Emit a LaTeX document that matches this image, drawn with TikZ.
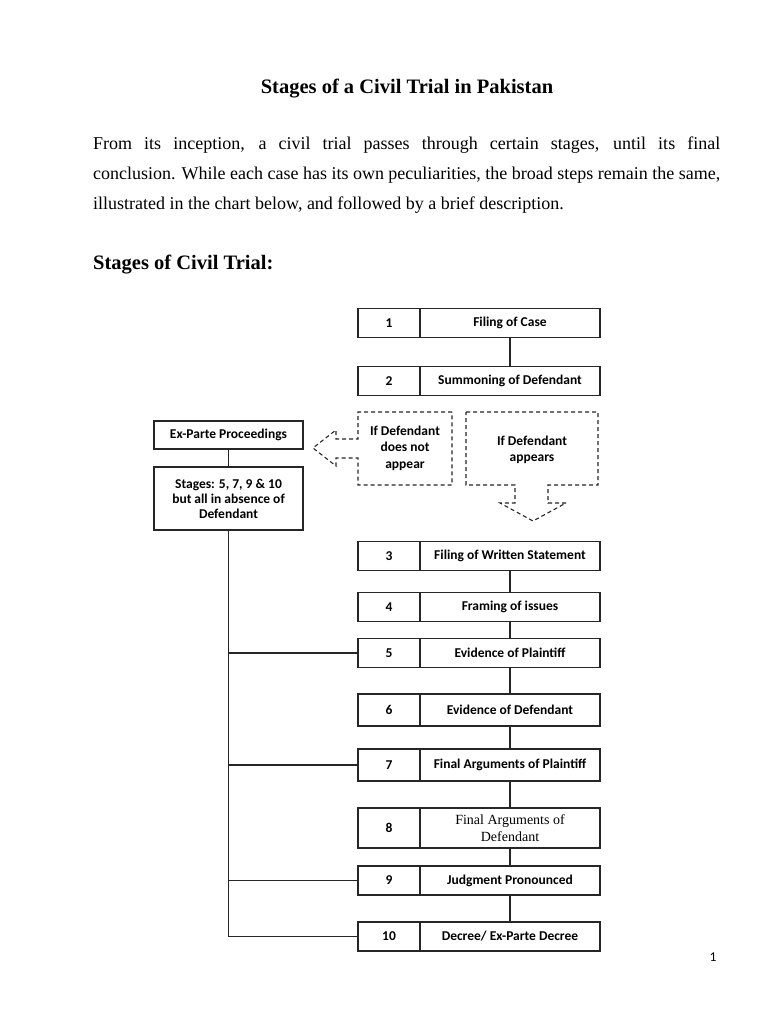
\documentclass[tikz,border=0pt]{standalone}
\usepackage{fontspec}
\setmainfont{Liberation Serif}
\newfontfamily\calib{Carlito}
\tikzset{
  numcell/.style={draw=black!85,line width=1.1pt,minimum width=62pt,minimum height=29pt,inner sep=0pt,font=\calib\bfseries\fontsize{13.5}{16}\selectfont},
  stagecell/.style={numcell,minimum width=180pt},
  sidebox/.style={numcell,minimum width=149pt,align=center,font=\calib\bfseries\fontsize{13.5}{15}\selectfont},
  callout/.style={draw=black!85,line width=1.1pt,dash pattern=on 4pt off 3pt},
  calltext/.style={align=center,inner sep=0pt,font=\calib\bfseries\fontsize{13.5}{16.5}\selectfont}
}
\begin{document}
\begin{tikzpicture}[x=1pt,y=-1pt]
      \useasboundingbox[fill=white] (0,0) rectangle (768,1024);
      % page text
      \node[anchor=base,font=\bfseries\fontsize{20.5}{24}\selectfont] (title) at (407,94) {Stages of a Civil Trial in Pakistan};
      \node[anchor=north west,inner sep=0pt,text width=627pt,align=justify,font=\fontsize{18}{30}\selectfont] (intro) at (93,137)
        {From its inception, a civil trial passes through certain stages, until its final\linebreak
         conclusion. While each case has its own peculiarities, the broad steps remain the same,
         illustrated in the chart below, and followed by a brief description.};
      \node[anchor=base west,inner sep=0pt,font=\bfseries\fontsize{20.5}{24}\selectfont] (heading) at (93,269) {Stages of Civil Trial:};
      \node[anchor=base,inner sep=0pt,font=\calib\fontsize{13.5}{16}\selectfont] (page) at (713,961) {1};
      % stages
      \draw
        (389,323) node[numcell] (n1){1}
        (510,323) node[stagecell] (s1){Filing of Case}
        (389,381) node[numcell] (n2){2}
        (510,381) node[stagecell] (s2){Summoning of Defendant}
        (389,556) node[numcell] (n3){3}
        (510,556) node[stagecell] (s3){Filing of Written Statement}
        (389,607) node[numcell] (n4){4}
        (510,607) node[stagecell] (s4){Framing of issues}
        (389,653) node[numcell] (n5){5}
        (510,653) node[stagecell] (s5){Evidence of Plaintiff}
        (389,710) node[numcell,minimum height=32pt] (n6){6}
        (510,710) node[stagecell,minimum height=32pt] (s6){Evidence of Defendant}
        (389,765) node[numcell,minimum height=32pt] (n7){7}
        (510,765) node[stagecell,minimum height=32pt] (s7){Final Arguments of Plaintiff}
        (389,828) node[numcell,minimum height=40pt] (n8){8}
        (510,828) node[stagecell,minimum height=40pt,align=center,font=\fontsize{14}{16.5}\selectfont] (s8){Final Arguments of\\Defendant}
        (389,880.5) node[numcell] (n9){9}
        (510,880.5) node[stagecell] (s9){Judgment Pronounced}
        (389,936.5) node[numcell] (n10){10}
        (510,936.5) node[stagecell] (s10){Decree/ Ex-Parte Decree};
      \draw
        (228.5,435) node[sidebox,minimum height=28pt] (exp){Ex-Parte Proceedings}
        (228.5,498.5) node[sidebox,minimum height=63pt] (stg){Stages: 5, 7, 9 \& 10\\but all in absence of\\Defendant};
      % callouts
      \draw[callout] (452,412) -- (358,412) -- (358,439) -- (336,439) -- (336,430) -- (313,448)
        -- (336,466) -- (336,458) -- (358,458) -- (358,485) -- (452,485) -- cycle;
      \node[calltext] (absent) at (405,448) {If Defendant\\does not\\appear};
      \draw[callout] (466,412) -- (598,412) -- (598,485) -- (548,485) -- (548,503) -- (566,503)
        -- (533,521) -- (500,503) -- (515,503) -- (515,485) -- (466,485) -- cycle;
      \node[calltext] (present) at (532,450) {If Defendant\\appears};
      \begin{scope}[-,draw=black!85,line width=1.1pt]
        \draw (s1) to (s2);
        \draw (s3) to (s4);
        \draw (s4) to (s5);
        \draw (s5) to (s6);
        \draw (s6) to (s7);
        \draw (s7) to (s8);
        \draw (s8) to (s9);
        \draw (s9) to (s10);
        \draw (exp) to (stg);
        \draw (stg.south) |- (n10.west);
        \draw (stg.south |- n5.west) to (n5.west);
        \draw (stg.south |- n7.west) to (n7.west);
        \draw (stg.south |- n9.west) to (n9.west);
      \end{scope}
    \end{tikzpicture}
\end{document}
